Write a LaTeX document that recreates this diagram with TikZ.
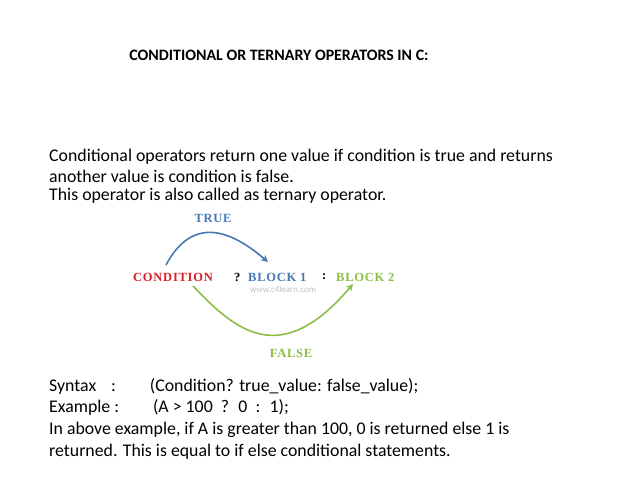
\documentclass[tikz,border=0pt]{standalone}
\usepackage{fontspec}
\setmainfont{Carlito}
\newfontfamily\heavy[LetterSpace=6]{Liberation Serif}
\usetikzlibrary{arrows.meta}
\definecolor{tblue}{RGB}{70,120,180}
\definecolor{tgreen}{RGB}{140,190,70}
\definecolor{tred}{RGB}{220,30,40}
\tikzset{body/.style={anchor=west,inner sep=0pt,font=\fontsize{17.8}{19}\selectfont},
 pic/.style={inner sep=0pt,font=\heavy\bfseries\fontsize{12.5}{13}\selectfont},
 arc/.style={line width=1.6pt,-{Stealth[length=7pt,width=7pt]}}}
\begin{document}
\begin{tikzpicture}[x=1pt,y=-1pt]
\useasboundingbox (0,0) rectangle (638,478);
\node[inner sep=0pt,font=\bfseries\fontsize{15.9}{17}\selectfont] (title) at (279,55) {CONDITIONAL OR TERNARY OPERATORS IN C:};
\node[body] (l1) at (49,157) {Conditional operators return one value if condition is true and returns};
\node[body] (l2) at (49,176) {another value is condition is false.};
\node[body] (l3) at (49,196) {This operator is also called as ternary operator.};
\node[pic,text=tblue] (true) at (213,218) {TRUE};
\node[pic,text=tred,anchor=west] (cond) at (133,277) {CONDITION};
\node[pic,anchor=west] (q) at (234,277) {?};
\node[pic,text=tblue,anchor=west] (b1) at (248,277) {BLOCK 1};
\node[pic,anchor=west] (col) at (322,277) {:};
\node[pic,text=tgreen,anchor=west] (b2) at (336,277) {BLOCK 2};
\node[inner sep=0pt,text=black!25,font=\fontsize{9}{10}\selectfont] (wm) at (283,289) {www.c4learn.com};
\node[pic,text=tgreen] (false) at (291,353) {FALSE};
\coordinate (ts) at (166,265);
\coordinate (te) at (268,262);
\coordinate (fs) at (193,286);
\coordinate (fe) at (353,284);
\draw[arc,tblue] (ts) .. controls (190,220) and (225,225) .. (te);
\draw[arc,tgreen] (fs) .. controls (235,330) and (280,370) .. (fe);
\node[body] (s1) at (49,386) {Syntax\hspace{15pt}:\hspace{34pt}(Condition? true\_value: false\_value);};
\node[body] (s2) at (49,407) {Example :\hspace{34pt}(A > 100\ \ ? \ 0 \ : \ 1);};
\node[body] (s3) at (49,430) {In above example, if A is greater than 100, 0 is returned else 1 is};
\node[body] (s4) at (49,452) {returned. This is equal to if else conditional statements.};
\end{tikzpicture}
\end{document}
